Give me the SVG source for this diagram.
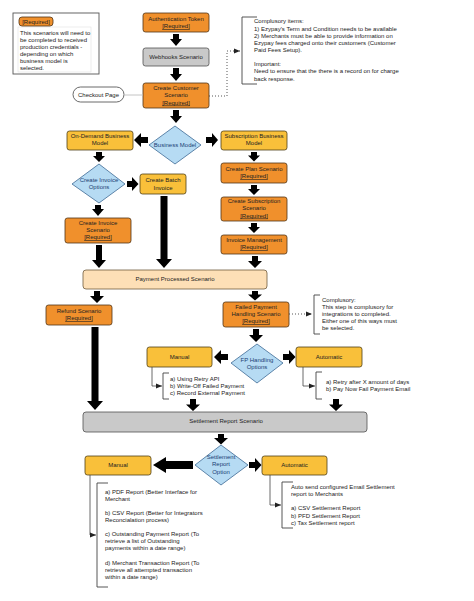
<svg xmlns="http://www.w3.org/2000/svg" width="474" height="601" viewBox="0 0 474 601">
<style>
text{font-family:"Liberation Sans",Arial,sans-serif;font-size:6px;fill:#222}
.c{text-anchor:middle}
.dt{fill:#1b3f73}
.u{text-decoration:underline}
.or{fill:#F0902C;stroke:#4f3418;stroke-width:0.8}
.ye{fill:#F9C03A;stroke:#4f4018;stroke-width:0.8}
.gr{fill:#C9C9C9;stroke:#505050;stroke-width:0.8}
.pe{fill:#FDDFB6;stroke:#6e5a3c;stroke-width:0.8}
.di{fill:#B6DBF3;stroke:#3d6a94;stroke-width:0.8}
.blk{fill:#000}
.ln{fill:none;stroke:#444;stroke-width:0.8}
.br{fill:none;stroke:#444;stroke-width:0.9}
.dot{fill:none;stroke:#444;stroke-width:0.9;stroke-dasharray:1,2}
</style>
<defs>
<marker id="ah" viewBox="0 0 6 6" refX="6" refY="3" markerWidth="6" markerHeight="6" markerUnits="userSpaceOnUse" orient="auto">
<path d="M0,0.5 L6,3 L0,5.5 Z" fill="#222"/>
</marker>
</defs>
<rect width="474" height="601" fill="#fff"/>

<g id="legend">
<rect x="13" y="13" width="86" height="61" fill="#fff" stroke="#555" stroke-width="0.9"/>
<rect x="18" y="27" width="73" height="45" fill="none" stroke="#e2e2e2" stroke-width="0.6"/>
<rect x="19" y="17" width="34" height="9" rx="3" class="or"/>
<text x="36" y="23.6" class="c">[Required]</text>
<text x="20" y="35">This scenarios will need to</text>
<text x="20" y="41.5">be completed to received</text>
<text x="20" y="48.5">production credentials -</text>
<text x="20" y="55.5">depending on which</text>
<text x="20" y="62.5">business model is</text>
<text x="20" y="69.5">selected.</text>
</g>

<g id="auth">
<rect x="143" y="13" width="66" height="19" rx="2.5" class="or"/>
<text x="176" y="20.5" class="c">Authentication Token</text>
<text x="176" y="28" class="c u">[Required]</text>
</g>
<g id="webhooks">
<rect x="143" y="48" width="66" height="18" rx="2.5" class="gr"/>
<text x="176" y="59" class="c">Webhooks Scenario</text>
</g>
<g id="customer">
<rect x="143" y="83" width="66" height="25" rx="2.5" class="or"/>
<text x="176" y="90" class="c">Create Customer</text>
<text x="176" y="97" class="c">Scenario</text>
<text x="176" y="104.5" class="c u">[Required]</text>
</g>
<g id="checkout">
<rect x="73" y="87" width="51" height="15" rx="7.5" fill="#fff" stroke="#444" stroke-width="0.8"/>
<text x="98.5" y="96.5" class="c">Checkout Page</text>
</g>
<g id="note1">
<path d="M257,17 H242 V84 H257" class="br"/>
<text x="254" y="23.3">Complusory items:</text>
<text x="254" y="30.7">1) Ezypay's Term and Condition needs to be available</text>
<text x="254" y="37.7">2) Merchants must be able to provide information on</text>
<text x="254" y="44.7">Ezypay fees charged onto their customers (Customer</text>
<text x="254" y="52">Paid Fees Setup).</text>
<text x="254" y="66">Important:</text>
<text x="254" y="73.3">Need to ensure that the there is a record on for charge</text>
<text x="254" y="80.7">back response.</text>
</g>

<g id="business-model">
<polygon points="175,126 201,145 175,164 149,145" class="di"/>
<text x="175" y="147" class="c dt">Business Model</text>
</g>
<g id="on-demand">
<rect x="67" y="131" width="66" height="19" rx="2.5" class="ye"/>
<text x="100" y="137.8" class="c">On-Demand Business</text>
<text x="100" y="145.4" class="c">Model</text>
</g>
<g id="subscription">
<rect x="221" y="131" width="66" height="19" rx="2.5" class="ye"/>
<text x="254" y="137.8" class="c">Subscription Business</text>
<text x="254" y="145.4" class="c">Model</text>
</g>
<g id="invoice-options">
<polygon points="99,164 125,184 99,203 72,184" class="di"/>
<text x="99" y="181.5" class="c dt">Create Invoice</text>
<text x="99" y="189" class="c dt">Options</text>
</g>
<g id="batch">
<rect x="140" y="174" width="46" height="20" rx="2.5" class="ye"/>
<text x="163" y="182" class="c">Create Batch</text>
<text x="163" y="189.5" class="c">Invoice</text>
</g>
<g id="invoice-scenario">
<rect x="65" y="218" width="66" height="25" rx="2.5" class="or"/>
<text x="98" y="224.5" class="c">Create Invoice</text>
<text x="98" y="231.5" class="c">Scenario</text>
<text x="98" y="239" class="c u">[Required]</text>
</g>
<g id="plan">
<rect x="221" y="163" width="66" height="20" rx="2.5" class="or"/>
<text x="254" y="171" class="c">Create Plan Scenario</text>
<text x="254" y="178.3" class="c u">[Required]</text>
</g>
<g id="sub-scenario">
<rect x="221" y="197" width="66" height="24" rx="2.5" class="or"/>
<text x="254" y="203" class="c">Create Subscription</text>
<text x="254" y="210.3" class="c">Scenario</text>
<text x="254" y="217.5" class="c u">[Required]</text>
</g>
<g id="invoice-mgmt">
<rect x="221" y="235" width="66" height="19" rx="2.5" class="or"/>
<text x="254" y="242" class="c">Invoice Management</text>
<text x="254" y="249.4" class="c u">[Required]</text>
</g>
<g id="payment">
<rect x="83" y="270" width="184" height="19" rx="3" class="pe"/>
<text x="175" y="281" class="c">Payment Processed Scenario</text>
</g>
<g id="refund">
<rect x="46" y="305" width="66" height="20" rx="2.5" class="or"/>
<text x="79" y="313" class="c">Refund Scenario</text>
<text x="79" y="320" class="c u">[Required]</text>
</g>
<g id="failed">
<rect x="223" y="302" width="66" height="25" rx="2.5" class="or"/>
<text x="256" y="309" class="c">Failed Payment</text>
<text x="256" y="316" class="c">Handling Scenario</text>
<text x="256" y="323" class="c u">[Required]</text>
</g>
<g id="note2">
<path d="M320,295 H314 V334 H320" class="br"/>
<text x="322" y="301.7">Complusory:</text>
<text x="322" y="309">This step is complusory for</text>
<text x="322" y="316">integrations to completed.</text>
<text x="322" y="323.3">Either one of this ways must</text>
<text x="322" y="330.3">be selected.</text>
</g>
<g id="fp-options">
<polygon points="257,344 283,363 257,383 231,363" class="di"/>
<text x="257" y="362" class="c dt">FP Handling</text>
<text x="257" y="369" class="c dt">Options</text>
</g>
<g id="fp-manual">
<rect x="147" y="347" width="65" height="20" rx="2.5" class="ye"/>
<text x="179.5" y="359" class="c">Manual</text>
</g>
<g id="fp-automatic">
<rect x="296" y="347" width="66" height="20" rx="2.5" class="ye"/>
<text x="329" y="359" class="c">Automatic</text>
</g>
<g id="fp-manual-list">
<path d="M169,373 H163 V399 H169" class="br"/>
<text x="170" y="380.5">a) Using Retry API</text>
<text x="170" y="387.5">b) Write-Off Failed Payment</text>
<text x="170" y="394.5">c) Record External Payment</text>
</g>
<g id="fp-auto-list">
<path d="M322,372 H316 V399 H322" class="br"/>
<text x="326" y="384">a) Retry after X amount of days</text>
<text x="326" y="391">b) Pay Now Fail Payment Email</text>
</g>
<g id="settlement">
<rect x="83" y="412" width="284" height="20" rx="3" class="gr"/>
<text x="226" y="423.2" class="c">Settlement Report Scenario</text>
</g>
<g id="sr-option">
<polygon points="221,445 248,465 221,485 195,465" class="di"/>
<text x="221" y="459.2" class="c dt">Settlement</text>
<text x="221" y="466.4" class="c dt">Report</text>
<text x="221" y="473.8" class="c dt">Option</text>
</g>
<g id="sr-manual">
<rect x="85" y="456" width="66" height="19" rx="2.5" class="ye"/>
<text x="118" y="467" class="c">Manual</text>
</g>
<g id="sr-automatic">
<rect x="262" y="456" width="65" height="19" rx="2.5" class="ye"/>
<text x="294.5" y="467" class="c">Automatic</text>
</g>
<g id="sr-manual-list">
<path d="M108,483 H97 V587 H108" class="br"/>
<text x="105" y="494">a) PDF Report (Better Interface for</text>
<text x="105" y="501">Merchant</text>
<text x="105" y="515">b) CSV Report (Better for Integrators</text>
<text x="105" y="522">Reconcialation process)</text>
<text x="105" y="536.3">c) Outstanding Payment Report (To</text>
<text x="105" y="543.3">retrieve a list of Outstanding</text>
<text x="105" y="550.3">payments within a date range)</text>
<text x="105" y="564.7">d) Merchant Transaction Report (To</text>
<text x="105" y="571.7">retrieve all attempted transaction</text>
<text x="105" y="578.7">within a date range)</text>
</g>
<g id="sr-auto-list">
<path d="M293,482 H282 V528 H293" class="br"/>
<text x="291" y="488.7">Auto send configured Email Settlement</text>
<text x="291" y="496">report to Merchants</text>
<text x="291" y="510.3">a) CSV Settlement Report</text>
<text x="291" y="517.7">b) PFD Settlement Report</text>
<text x="291" y="524.7">c) Tax Settlement report</text>
</g>

<g id="connectors">
<path d="M124,95 H143" fill="none" stroke="#bdbdbd" stroke-width="0.9"/>
<path d="M209,96 H227 V51 H240" class="dot" marker-end="url(#ah)"/>
<path d="M289,314 H312" class="dot" marker-end="url(#ah)"/>
<path d="M152,367 V386 H162" class="ln" marker-end="url(#ah)"/>
<path d="M303,367 V386 H315" class="ln" marker-end="url(#ah)"/>
<path d="M90,475 V535 H96" class="ln" marker-end="url(#ah)"/>
<path d="M270,475 V505 H281" class="ln" marker-end="url(#ah)"/>

<path class="blk" d="M173,34 H179 V39 H182 L176,46 L170,39 H173 Z"/>
<path class="blk" d="M173,68 H179 V74 H182 L176,81 L170,74 H173 Z"/>
<path class="blk" d="M173,110 H179 V116 H182 L176,123 L170,116 H173 Z"/>
<path class="blk" d="M96,152 H102 V156 H105 L99,162 L93,156 H96 Z"/>
<path class="blk" d="M95,205 H101 V209 H104 L98,216 L92,209 H95 Z"/>
<path class="blk" d="M251,152 H257 V155.5 H260 L254,161.5 L248,155.5 H251 Z"/>
<path class="blk" d="M251,185 H257 V189 H260 L254,195 L248,189 H251 Z"/>
<path class="blk" d="M251,223 H257 V227 H260 L254,233 L248,227 H251 Z"/>
<path class="blk" d="M252,256 H258 V261 H262 L255,268 L248,261 H252 Z"/>
<path class="blk" d="M96,245 H102 V260 H106 L99,268 L92,260 H96 Z"/>
<path class="blk" d="M160.5,196 H167.5 V259 H172 L164,268 L156,259 H160.5 Z"/>
<path class="blk" d="M94,291 H100 V296 H104 L97,303 L90,296 H94 Z"/>
<path class="blk" d="M252,291 H258 V294.5 H262 L255,300.5 L248,294.5 H252 Z"/>
<path class="blk" d="M91.5,327 H98.5 V401 H103 L95,410 L87,401 H91.5 Z"/>
<path class="blk" d="M253,329 H259 V335 H263 L256,342 L249,335 H253 Z"/>
<path class="blk" d="M190,399 H196 V404.5 H200 L193,411 L186,404.5 H190 Z"/>
<path class="blk" d="M333,399 H339 V404.5 H343 L336,411 L329,404.5 H333 Z"/>
<path class="blk" d="M218,434 H224 V438 H228 L221,444.5 L214,438 H218 Z"/>

<path class="blk" d="M148,137 V143 H141 V147 L134,140 L141,133 V137 Z"/>
<path class="blk" d="M206,137 V143 H212 V147 L218,140 L212,133 V137 Z"/>
<path class="blk" d="M127,181 V187 H132 V191 L138.5,184 L132,177 V181 Z"/>
<path class="blk" d="M228,354 V360 H221 V364 L214,357 L221,350 V354 Z"/>
<path class="blk" d="M283,354 V360 H289 V364 L295.5,357 L289,350 V354 Z"/>
<path class="blk" d="M193,461 V469 H166 V473 L153,465 L166,457 V461 Z"/>
<path class="blk" d="M249,462 V468 H255 V472 L261.5,465 L255,458 V462 Z"/>
</g>
</svg>
